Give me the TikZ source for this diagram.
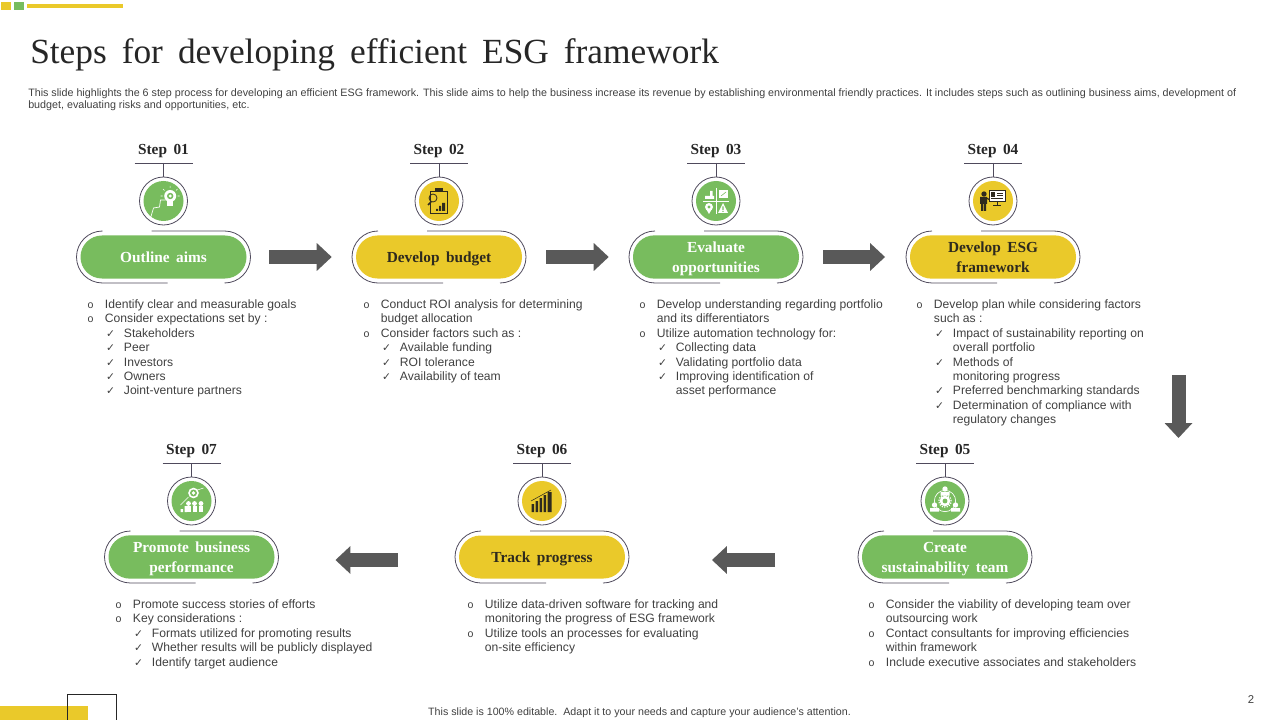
\documentclass[tikz,border=0pt]{standalone}
\usepackage{fontspec}
\setmainfont{Liberation Sans}
\newfontfamily\serifface[WordSpace=1.7]{Liberation Serif}
\newfontfamily\bulface{Liberation Mono}
\newfontfamily\chkface{DejaVu Sans}
\usetikzlibrary{arrows.meta}

\definecolor{leafgreen}{HTML}{78BC5E}
\definecolor{sunyellow}{HTML}{EAC92A}
\definecolor{rimgray}{HTML}{4F4A5C}
\definecolor{arrowgray}{HTML}{595959}
\definecolor{bodygray}{HTML}{404040}
\definecolor{inkdark}{HTML}{2E2A1E}

\tikzset{
  steplabel/.style={font=\serifface\bfseries\fontsize{11.5}{14}\selectfont,text=black!85,inner sep=0pt},
  rimline/.style={draw=rimgray,line width=.6pt},
  ringbox/.style={circle,draw=rimgray,line width=.6pt,fill=white,minimum size=36pt,inner sep=0pt},
  corebox/.style={circle,minimum size=30pt,inner sep=0pt},
  pillbox/.style={rectangle,rounded corners=16.1pt,minimum width=124.5pt,minimum height=32.25pt,inner sep=0pt,align=center,
    font=\serifface\bfseries\fontsize{11.5}{15}\selectfont},
  notes/.style={anchor=north west,align=left,inner sep=0pt,text=bodygray,font=\fontsize{9.1}{10.8}\selectfont},
  flowarrow/.style={draw=arrowgray,line width=10.5pt,-{Triangle[width=20.25pt,length=11.25pt]}},
  budgeticon/.pic={
    \draw[inkdark,line width=.7pt] (-9,-10) rectangle (8,12);
    \fill[inkdark] (-4,-13) rectangle (4,-10);
    \draw[inkdark,line width=.6pt] (-6,-3) circle (3pt);
    \draw[inkdark,line width=1.1pt] (-8,1) -- (-11,4);
    \fill[inkdark] (-3,10) rectangle (-1,8) (0,10) rectangle (2,5) (3,10) rectangle (6,2);
  },
  aimsicon/.pic={
    \draw[white,line width=.5pt] (-13,17) -- (-10,7) -- (-4,6) -- (-3,-1) -- (2,-1);
    \fill[white] (6.7,-5) circle (4.5pt);
    \fill[white] (3.7,-1) rectangle (9.7,5);
    \fill[leafgreen] (6.7,-5) circle (2.4pt);
    \fill[white] (6.7,-5) circle (1.2pt);
    \draw[white,line width=.4pt] (6.7,-15) -- (6.7,-13) (-3,-5) -- (-1,-5) (14,-5) -- (16,-5) (-.5,-12) -- (1,-10.5) (14,-12) -- (12.5,-10.5);
  },
  evalicon/.pic={
    \draw[white,line width=.4pt] (-13,0) -- (13,0) (0,-13) -- (0,13);
    \fill[white] (-11,-5) rectangle (-2,-2) (-6,-10) rectangle (-3.5,-4);
    \fill[white] (3,-11) rectangle (12,-3);
    \draw[leafgreen,line width=.4pt] (5,-5) -- (10,-9);
    \fill[white] (-7,6) circle (3pt) (-10.5,7) -- (-7,13) -- (-3.5,7) -- cycle;
    \fill[leafgreen] (-7,6) circle (1.2pt);
    \fill[white] (2,12) -- (7,2) -- (12,12) -- cycle;
    \fill[leafgreen] (6.4,5.5) rectangle (7.6,9) (6.4,9.8) rectangle (7.6,11);
  },
  presenticon/.pic={
    \fill[inkdark] (-9,-7) circle (2pt);
    \fill[inkdark] (-13,-4) rectangle (-6,3) (-12,3) rectangle (-9.8,10) (-9.2,3) rectangle (-7,10);
    \draw[inkdark,line width=.9pt] (-6.5,-3) -- (-3,-1);
    \draw[inkdark,line width=.7pt,fill=white] (-4,-11) rectangle (12,0);
    \fill[inkdark] (-2.5,-9) rectangle (2,-4);
    \draw[inkdark,line width=.4pt] (4,-8) -- (10,-8) (4,-5.5) -- (10,-5.5) (-2,-2.5) -- (10,-2.5);
    \draw[inkdark,line width=.7pt] (4,0) -- (4,4.5) (0,4.5) -- (8,4.5);
  },
  teamicon/.pic={
    \draw[white,line width=.5pt] (0,0) circle (8pt);
    \fill[white] (0,-12) circle (2pt) (-4.5,-5.5) rectangle (4.5,-9);
    \fill[white] (-10.5,4) circle (2pt) (-15,10.5) rectangle (-6,7);
    \fill[white] (10.5,4) circle (2pt) (6,10.5) rectangle (15,7);
    \fill[white] (0,0) circle (4pt);
    \fill[leafgreen] (0,0) circle (1.8pt);
    \draw[white,line width=.9pt,densely dotted] (0,0) circle (4.6pt);
  },
  trackicon/.pic={
    \fill[inkdark] (-10.5,11) rectangle (-8,3) (-6.5,11) rectangle (-4,0) (-2.5,11) rectangle (0,-3) (1.5,11) rectangle (4,-6) (5.5,11) rectangle (9.5,-9);
    \draw[inkdark,line width=.4pt] (-11,0) -- (9,-11);
  },
  promoteicon/.pic={
    \fill[white] (2,-8) circle (4pt);
    \fill[leafgreen] (2,-8) circle (2.6pt);
    \fill[white] (2,-8) circle (1.4pt);
    \draw[white,line width=.4pt] (-11,4) -- (-3,-4) (6,-11) -- (12,-13);
    \fill[white] (-11,11) rectangle (-8.5,8) (-7,11) rectangle (-4.5,5);
    \foreach \px in {-3,3,9.5}{
      \fill[white] (\px,2.5) circle (1.8pt);
      \fill[white] (\px-2,4.5) rectangle (\px+2,11);
    }
  }
}

% one step: heading, ring, pill and its broken outline
\newcommand\stepunit[7]{
  \node[steplabel] (step#1) at (#2,#3-105.5) {#6};
  \node[ringbox] (ring#1) at (#2,#3-56) {};
  \node[corebox,fill=#4] (core#1) at (#2,#3-56) {};
  \draw[rimline] (#2-29,#3-94) -- (#2+29,#3-94);
  \draw[rimline] (#2,#3-94) -- (ring#1.north);
  \node[pillbox,fill=#4,text=#5] (pill#1) at (#2,#3) {\rule{0pt}{13pt}#7\strut};
  \draw[rimline,rounded corners=19.5pt] (#2-12,#3-26) -- (#2+87,#3-26) -- (#2+87,#3+26) -- (#2+61,#3+26);
  \draw[rimline,rounded corners=19.5pt] (#2+4,#3+26) -- (#2-87,#3+26) -- (#2-87,#3-26) -- (#2-61,#3-26);
}
\newcommand\obul{\makebox[14pt][l]{\hspace*{.8pt}\bulface\fontsize{8}{8}\selectfont o}}
\newcommand\chk{\hspace*{14pt}\makebox[14.25pt][l]{\hspace*{.8pt}\chkface\fontsize{8}{8}\selectfont ✓}}
\newcommand\one{\hspace*{14pt}}
\newcommand\two{\hspace*{28.25pt}}

\begin{document}
\begin{tikzpicture}[x=.75pt,y=-.75pt]
  \useasboundingbox (0,0) rectangle (1280,720);

  % corner marks
  \fill[sunyellow] (1,2.5) rectangle (11,10.5);
  \fill[leafgreen] (14,2.5) rectangle (24,10.5);
  \fill[sunyellow] (27,4) rectangle (123,8);
  \fill[sunyellow] (0,706) rectangle (88,720);
  \draw[black!85,line width=.75pt] (67.5,720) -- (67.5,694.5) -- (116.5,694.5) -- (116.5,720);

  \node[anchor=west,inner sep=0pt,text=black!85,font=\serifface\fontsize{26.5}{32}\selectfont] (title) at (30,55)
    {Steps for developing efficient ESG framework};
  \node[anchor=north west,inner sep=0pt,text width=906pt,align=justify,text=bodygray,font=\fontsize{8.05}{9}\selectfont] (intro) at (28,88)
    {This slide highlights the 6 step process for developing an efficient ESG framework. This slide aims to help the business increase its revenue by establishing environmental friendly practices. It includes steps such as outlining business aims, development of budget, evaluating risks and opportunities, etc.};

  \stepunit{A}{163.5}{257}{leafgreen}{white}{Step 01}{Outline aims}
  \stepunit{B}{439}{257}{sunyellow}{inkdark}{Step 02}{Develop budget}
  \stepunit{C}{716}{257}{leafgreen}{white}{Step 03}{Evaluate\\opportunities}
  \stepunit{D}{993}{257}{sunyellow}{inkdark}{Step 04}{Develop ESG\\framework}
  \stepunit{E}{945}{557}{leafgreen}{white}{Step 05}{Create\\sustainability team}
  \stepunit{F}{542}{557}{sunyellow}{inkdark}{Step 06}{Track progress}
  \stepunit{G}{191.5}{557}{leafgreen}{white}{Step 07}{Promote business\\performance}

  \pic at (coreA) {aimsicon};
  \pic at (coreB) {budgeticon};
  \pic at (coreC) {evalicon};
  \pic at (coreD) {presenticon};
  \pic at (coreE) {teamicon};
  \pic at (coreF) {trackicon};
  \pic at (coreG) {promoteicon};

  \coordinate (turnA) at (1178.5,375);
  \coordinate (turnB) at (1178.5,438);
  \draw[flowarrow,shorten <=17pt,shorten >=18pt] (pillA) -- (pillB);
  \draw[flowarrow,shorten <=18pt,shorten >=18pt] (pillB) -- (pillC);
  \draw[flowarrow,shorten <=18pt,shorten >=18.5pt] (pillC) -- (pillD);
  \draw[flowarrow] (turnA) -- (turnB);
  \draw[flowarrow,shorten <=65pt,shorten >=65pt] ([yshift=-2.25pt]pillE.west) -- ([yshift=-2.25pt]pillF.east);
  \draw[flowarrow,shorten <=45.5pt,shorten >=45.5pt] ([yshift=-2.25pt]pillF.west) -- ([yshift=-2.25pt]pillG.east);

  \node[notes] (notesA) at (86,299.5) {\obul Identify clear and measurable goals\\\obul Consider expectations set by :\\\chk Stakeholders\\\chk Peer\\\chk Investors\\\chk Owners\\\chk Joint-venture partners};
  \node[notes] (notesB) at (362,299.5) {\obul Conduct ROI analysis for determining\\\one budget allocation\\\obul Consider factors such as :\\\chk Available funding\\\chk ROI tolerance\\\chk Availability of team};
  \node[notes] (notesC) at (638,299.5) {\obul Develop understanding regarding portfolio\\\one and its differentiators\\\obul Utilize automation technology for:\\\chk Collecting data\\\chk Validating portfolio data\\\chk Improving identification of\\\two asset performance};
  \node[notes] (notesD) at (915,299.5) {\obul Develop plan while considering factors\\\one such as :\\\chk Impact of sustainability reporting on\\\two overall portfolio\\\chk Methods of\\\two monitoring progress\\\chk Preferred benchmarking standards\\\chk Determination of compliance with\\\two regulatory changes};
  \node[notes] (notesE) at (867,599.5) {\obul Consider the viability of developing team over\\\one outsourcing work\\\obul Contact consultants for improving efficiencies\\\one within framework\\\obul Include executive associates and stakeholders};
  \node[notes] (notesF) at (466,599.5) {\obul Utilize data-driven software for tracking and\\\one monitoring the progress of ESG framework\\\obul Utilize tools an processes for evaluating\\\one on-site efficiency};
  \node[notes] (notesG) at (114,599.5) {\obul Promote success stories of efforts\\\obul Key considerations :\\\chk Formats utilized for promoting results\\\chk Whether results will be publicly displayed\\\chk Identify target audience};

  \node[inner sep=0pt,text=bodygray,font=\fontsize{8}{9}\selectfont] (footer) at (639.5,713)
    {This slide is 100\% editable.\ \ Adapt it to your needs and capture your audience's attention.};
  \node[inner sep=0pt,text=bodygray,font=\fontsize{8.5}{10}\selectfont] (pagenum) at (1251,699.5) {2};
\end{tikzpicture}
\end{document}
